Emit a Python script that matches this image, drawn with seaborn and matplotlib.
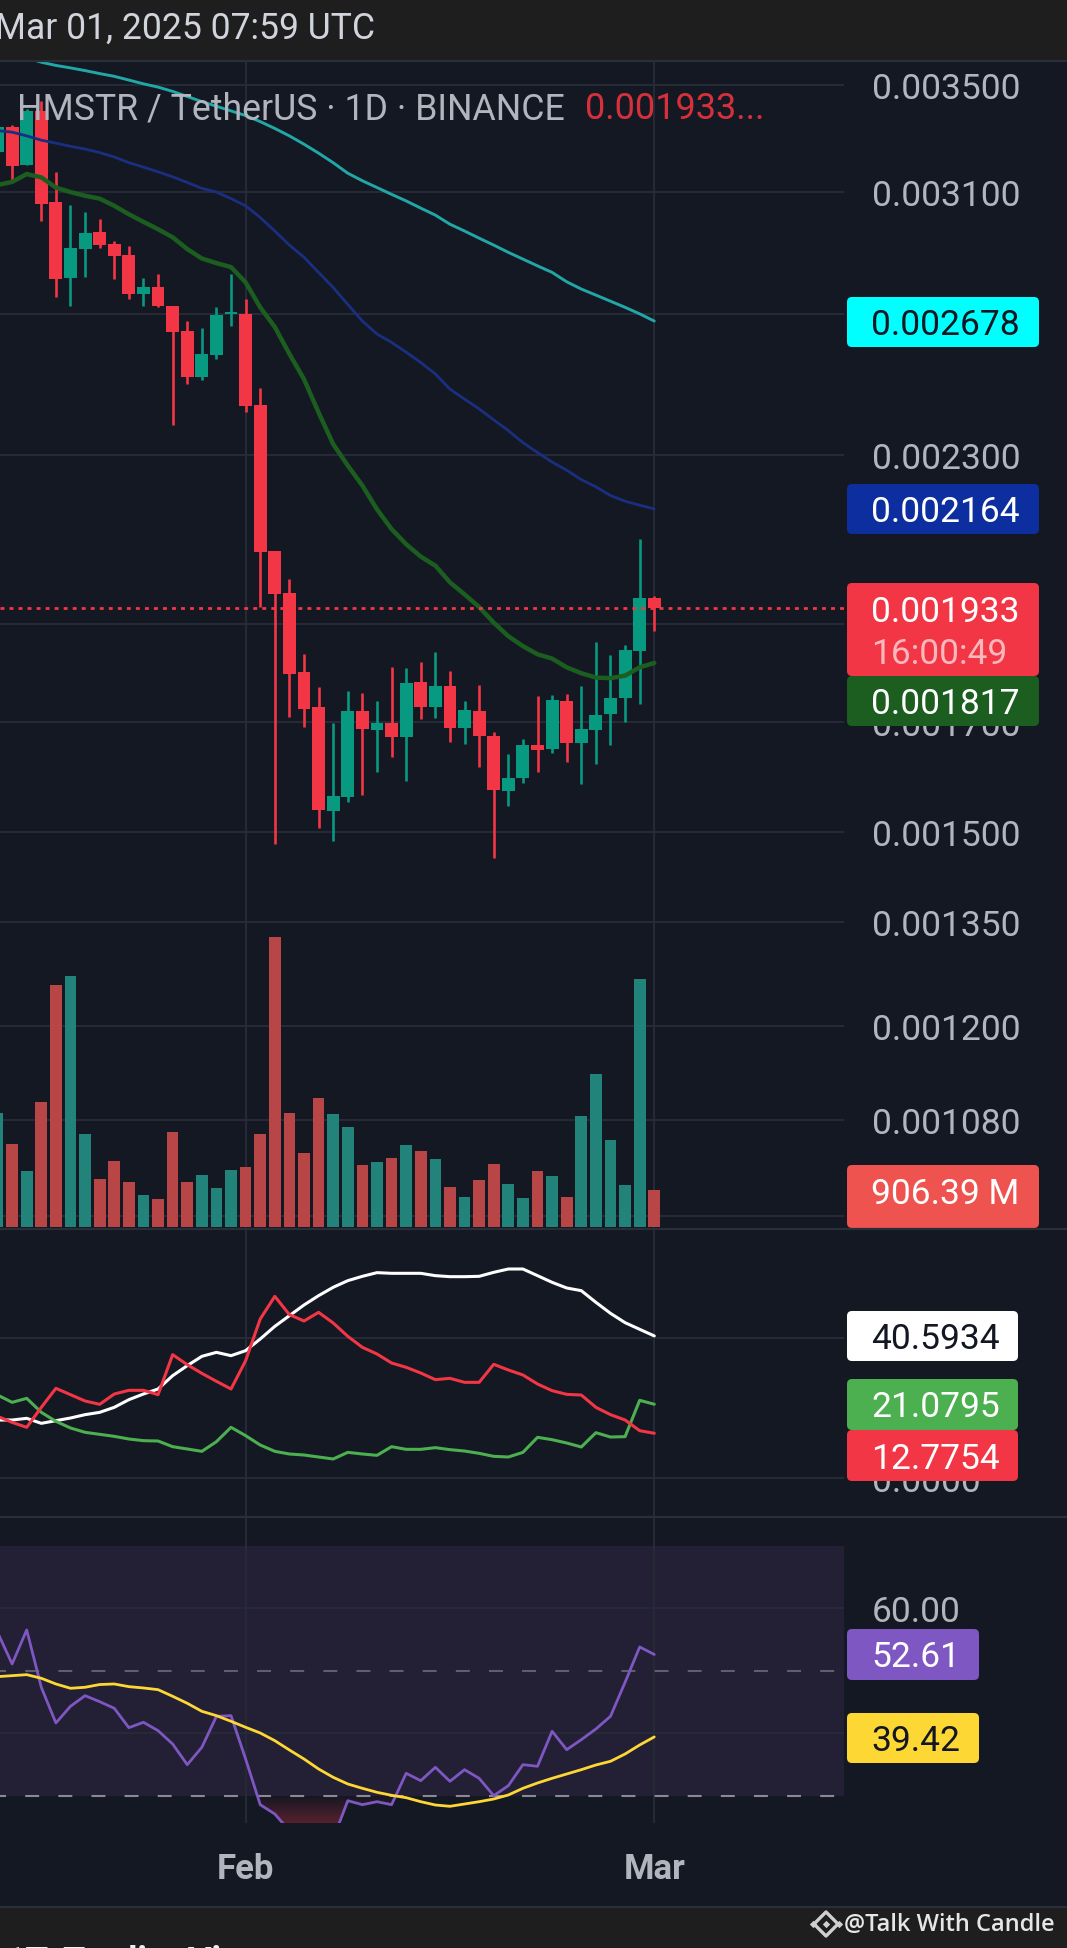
import numpy as np
import pandas as pd
import seaborn as sns
import matplotlib.pyplot as plt
from matplotlib.patches import FancyBboxPatch, Rectangle

W, H = 1067, 1949
BG = "#141823"
BAR = "#1e1e1e"
GRID = "#262a37"
UP = "#089981"
DOWN = "#f23645"
TXT = "#b2b5be"

# days counted from Feb 1, one candle per day
days = list(range(-17, 29))

# prices in millionths of a USDT
price_open = [3244, 3339, 3197, 3400, 3064, 2812, 2906, 2962, 2922, 2888, 2760, 2782, 2723, 2648, 2514, 2578,
              2698, 2699, 2434, 2063, 1966, 1798, 1728, 1536, 1560, 1720, 1684, 1697, 1670, 1778, 1728, 1770,
              1688, 1720, 1673, 1571, 1595, 1656, 1648, 1740, 1659, 1684, 1715, 1746, 1841, 1955]
price_high = [3360, 3345, 3406, 3438, 3170, 3054, 3029, 3008, 2932, 2915, 2813, 2824, 2725, 2678, 2656, 2722,
              2824, 2745, 2482, 2063, 1998, 1835, 1768, 1697, 1761, 1756, 1740, 1809, 1807, 1819, 1839, 1800,
              1740, 1772, 1680, 1638, 1667, 1750, 1752, 1754, 1770, 1860, 1833, 1854, 2091, 1960]
price_low = [3225, 3140, 3196, 3000, 2752, 2724, 2815, 2910, 2808, 2745, 2724, 2721, 2381, 2493, 2505, 2565,
             2664, 2416, 1935, 1480, 1709, 1689, 1506, 1485, 1552, 1565, 1605, 1633, 1589, 1705, 1707, 1661,
             1658, 1614, 1457, 1545, 1585, 1605, 1640, 1623, 1584, 1620, 1656, 1699, 1734, 1884]
price_close = [3338, 3194, 3400, 3058, 2810, 2909, 2961, 2919, 2884, 2762, 2782, 2724, 2646, 2514, 2580, 2696,
               2705, 2433, 2060, 1964, 1795, 1724, 1538, 1562, 1720, 1686, 1697, 1671, 1776, 1728, 1770, 1688,
               1722, 1673, 1573, 1595, 1656, 1646, 1742, 1659, 1686, 1713, 1746, 1843, 1955, 1933]

ma_teal = [3646, 3632, 3610, 3592, 3579, 3569, 3558, 3546, 3535, 3520, 3505, 3492, 3475, 3455, 3435, 3417,
           3399, 3381, 3358, 3332, 3304, 3273, 3240, 3205, 3167, 3140, 3116, 3092, 3069, 3044, 3020, 2989,
           2966, 2942, 2919, 2895, 2873, 2851, 2830, 2800, 2777, 2758, 2739, 2720, 2700, 2678]
ma_blue = [3324, 3318, 3304, 3288, 3277, 3265, 3255, 3242, 3226, 3205, 3189, 3172, 3154, 3134, 3113, 3100,
           3077, 3052, 3012, 2966, 2919, 2879, 2830, 2782, 2729, 2678, 2639, 2614, 2585, 2555, 2522, 2479,
           2451, 2424, 2394, 2365, 2333, 2307, 2282, 2261, 2237, 2219, 2197, 2183, 2173, 2164]
ma_green = [3125, 3136, 3164, 3152, 3116, 3100, 3087, 3077, 3052, 3023, 2997, 2972, 2945, 2906, 2875, 2860,
            2847, 2798, 2720, 2660, 2580, 2507, 2414, 2329, 2273, 2222, 2163, 2115, 2079, 2050, 2029, 1991,
            1964, 1936, 1902, 1873, 1852, 1835, 1826, 1808, 1796, 1787, 1786, 1791, 1808, 1817]

# volume in millions
volume = [2776, 2023, 1368, 3043, 5884, 6102, 2266, 1173, 1611, 1101, 785, 688, 2315, 1101, 1271, 955,
          1392, 1465, 2266, 7049, 2776, 1805, 3140, 2752, 2436, 1513, 1586, 1683, 1999, 1853, 1659, 979,
          736, 1149, 1538, 1052, 712, 1368, 1246, 736, 2703, 3723, 2120, 1028, 6029, 906.39]

adx_white = [16.57, 16.57, 17.05, 15.62, 16.38, 17.14, 18.1, 18.76, 20.19, 22.38, 24.0, 25.43, 29.24, 32.1, 34.76, 35.9,
             34.95, 36.38, 39.71, 43.33, 46.38, 49.43, 52.1, 54.48, 56.38, 57.62, 58.67, 58.48, 58.48, 58.48, 57.81, 57.52,
             57.52, 57.62, 58.76, 59.71, 59.71, 57.81, 55.9, 54.29, 53.52, 50.19, 47.05, 44.38, 42.48, 40.59]
di_red = [17.62, 15.9, 14.48, 20.19, 25.62, 23.81, 22.0, 21.05, 24.0, 25.05, 25.05, 23.81, 35.24, 32.38, 29.9, 27.62,
          25.43, 33.52, 45.43, 51.9, 46.67, 44.86, 47.33, 44.29, 40.48, 37.33, 35.43, 32.86, 31.62, 30.0, 28.1, 28.48,
          27.33, 27.33, 32.48, 30.86, 29.43, 26.86, 24.95, 23.9, 23.71, 20.19, 18.1, 16.57, 13.52, 12.78]
di_green = [23.71, 21.62, 22.76, 18.76, 16.19, 14.29, 13.05, 12.48, 11.9, 11.14, 10.67, 10.57, 8.95, 8.29, 7.62, 10.38,
            14.48, 12.1, 9.43, 7.62, 6.86, 6.57, 6.0, 5.43, 7.33, 6.86, 6.48, 8.95, 8.19, 8.19, 8.67, 8.1,
            7.71, 7.05, 6.19, 6.0, 7.33, 11.62, 10.95, 10.0, 8.86, 12.95, 11.71, 11.81, 22.19, 21.08]

rsi = [56.16, 51.09, 56.53, 47.36, 41.65, 44.32, 46.02, 45.06, 44.0, 40.9, 41.76, 40.42, 38.29, 34.98, 37.76, 42.72,
       42.82, 35.89, 28.58, 27.09, 24.42, 23.09, 22.82, 23.09, 29.22, 28.58, 29.06, 28.58, 33.6, 32.42, 34.56, 32.32,
       34.18, 32.8, 30.02, 31.62, 34.98, 34.72, 40.32, 37.38, 38.98, 40.69, 42.72, 48.16, 53.81, 52.61]
rsi_ma = [49.06, 49.22, 49.38, 48.8, 47.89, 47.2, 47.36, 47.8, 47.89, 47.46, 47.25, 46.98, 45.92, 44.8, 43.52, 42.82,
          41.92, 40.96, 40.05, 38.82, 37.33, 35.89, 34.29, 32.96, 31.89, 31.2, 30.56, 30.08, 29.7, 29.06, 28.53, 28.32,
          28.69, 29.06, 29.49, 30.13, 31.2, 32.05, 32.8, 33.49, 34.18, 34.93, 35.52, 36.69, 38.13, 39.42]

# the lower log ticks sit a little off their rounded labels
price_ticks = [3500, 3100, 2700, 2300, 1900, 1700, 1500, 1354, 1203, 1082, 970]
price_tick_labels = ["0.003500", "0.003100", "0.002700", "0.002300", "0.001900", "0.001700", "0.001500",
                     "0.001350", "0.001200", "0.001080", "0.000970"]
dmi_ticks = [40, 0]
dmi_tick_labels = ["40.0000", "0.0000"]
rsi_ticks = [60, 40]
rsi_tick_labels = ["60.00", "40.00"]
month_days = [0, 28]
month_labels = ["Feb", "Mar"]

sns.set_theme(style="dark")
plt.rcParams["font.family"] = ["Roboto", "DejaVu Sans"]
plt.rcParams["axes.unicode_minus"] = False

df = pd.DataFrame({"day": days, "open": price_open, "high": price_high, "low": price_low, "close": price_close,
                   "teal": ma_teal, "blue": ma_blue, "green": ma_green, "volume": volume, "adx": adx_white,
                   "di_red": di_red, "di_green": di_green, "rsi": rsi, "rsi_ma": rsi_ma})
df["side"] = np.where(df["close"] >= df["open"], "up", "down")

fig = plt.figure(figsize=(W / 100, H / 100), dpi=100, facecolor=BG)


def pane(x0, y0, x1, y1):
    ax = fig.add_axes([x0 / W, 1 - y1 / H, (x1 - x0) / W, (y1 - y0) / H])
    ax.set_facecolor(BG)
    for s in ax.spines.values():
        s.set_visible(False)
    ax.set_xlim(-16.83, 41.0)
    ax.grid(False)
    return ax


def y_axis(ax, ticks, labels):
    ax.yaxis.tick_right()
    ax.set_yticks(ticks, labels)
    ax.minorticks_off()
    ax.tick_params(axis="y", length=0, pad=20, labelsize=25.5, labelcolor=TXT)
    ax.tick_params(axis="x", length=0, labelbottom=False)
    ax.set_xlabel("")
    ax.set_ylabel("")
    for t in ax.get_yticklabels():
        t.set_va("center_baseline")
    for t in ticks:
        ax.axhline(t, color=GRID, lw=1.5, zorder=1)
    for d in month_days:
        ax.axvline(d, color=GRID, lw=1.5, zorder=1)


# price pane
ax_price = pane(0, 62, 844, 1230)
ax_price.set_yscale("log")
ax_price.set_ylim(956, 3597)
y_axis(ax_price, price_ticks, price_tick_labels)

colors = df["side"].map({"up": UP, "down": DOWN})
ax_price.vlines(df["day"], df["low"], df["high"], colors=colors, lw=1.9, zorder=3)
ax_price.bar(df["day"], (df["close"] - df["open"]).abs().clip(lower=4), bottom=df[["open", "close"]].min(axis=1),
             width=0.88, color=colors, lw=0, zorder=3)
sns.lineplot(data=df, x="day", y="teal", color="#22a7a7", lw=2.1, ax=ax_price, zorder=4)
sns.lineplot(data=df, x="day", y="blue", color="#1a2f80", lw=2.0, ax=ax_price, zorder=4)
sns.lineplot(data=df, x="day", y="green", color="#1b5e20", lw=3.2, ax=ax_price, zorder=4)
ax_price.axhline(price_close[-1], color=DOWN, lw=2, ls=(0, (1.4, 1.85)), zorder=5)
ax_price.set_xlabel("")
ax_price.set_ylabel("")

# volume shares the price pane
ax_vol = ax_price.twinx()
ax_price.yaxis.tick_right()  # twinx sends the price labels to the left
ax_vol.patch.set_visible(False)
sns.barplot(data=df, x="day", y="volume", hue="side", palette={"up": "#22837a", "down": "#b94647"},
            native_scale=True, dodge=False, width=0.8, saturation=1, legend=False, linewidth=0, ax=ax_vol, zorder=2)
ax_vol.set_xlim(-16.83, 41.0)
ax_vol.set_ylim(-48.6, 28310)
ax_vol.set_yticks([])
ax_vol.set_ylabel("")
ax_vol.set_xlabel("")
ax_vol.tick_params(axis="x", length=0, labelbottom=False)
for s in ax_vol.spines.values():
    s.set_visible(False)

# directional movement pane
ax_dmi = pane(0, 1230, 844, 1518)
ax_dmi.set_ylim(-11.14, 71.14)
y_axis(ax_dmi, dmi_ticks, dmi_tick_labels)
sns.lineplot(data=df, x="day", y="adx", color="#ffffff", lw=2.2, ax=ax_dmi, zorder=3)
sns.lineplot(data=df, x="day", y="di_green", color="#4caf50", lw=2.2, ax=ax_dmi, zorder=3)
sns.lineplot(data=df, x="day", y="di_red", color="#f23645", lw=2.2, ax=ax_dmi, zorder=3)
ax_dmi.set_xlabel("")
ax_dmi.set_ylabel("")

# rsi pane
ax_rsi = pane(0, 1518, 844, 1824)
ax_rsi.set_ylim(25.65, 74.6)
ax_rsi.axhspan(30, 70, color="#231f35", lw=0, zorder=0)
y_axis(ax_rsi, rsi_ticks, rsi_tick_labels)
ax_rsi.axhline(50, color="#5f5f6b", lw=1.5, ls=(3.8, (6.7, 9.2)), zorder=2)
ax_rsi.axhline(30, color="#8a8a92", lw=1.5, ls=(3.8, (6.7, 9.2)), zorder=2)
below = ax_rsi.fill_between(df["day"], df["rsi"], 30, where=df["rsi"] < 30, interpolate=True, color="none")
shade = np.zeros((32, 1, 4))
shade[..., 0] = 0.95
shade[..., 1] = 0.21
shade[..., 2] = 0.27
shade[:, 0, 3] = np.linspace(0.0, 0.3, 32)
im = ax_rsi.imshow(shade, extent=(-16.83, 41.0, 25.65, 30), aspect="auto", zorder=1)
im.set_clip_path(below.get_paths()[0], transform=ax_rsi.transData)
sns.lineplot(data=df, x="day", y="rsi", color="#7e57c2", lw=2.0, ax=ax_rsi, zorder=3)
sns.lineplot(data=df, x="day", y="rsi_ma", color="#fdd835", lw=2.0, ax=ax_rsi, zorder=4)
ax_rsi.set_xlim(-16.83, 41.0)
ax_rsi.set_ylim(25.65, 74.6)
ax_rsi.set_xlabel("")
ax_rsi.set_ylabel("")
ax_rsi.set_xticks(month_days, month_labels)
ax_rsi.tick_params(axis="x", length=0, pad=21, labelbottom=True, labelsize=25, labelcolor=TXT)
for t in ax_rsi.get_xticklabels():
    t.set_fontweight("bold")

# page furniture and price badges, in pixels
over = fig.add_axes([0, 0, 1, 1], zorder=10)
over.set_xlim(0, W)
over.set_ylim(H, 0)
over.axis("off")

over.add_patch(Rectangle((0, 0), W, 62, color=BAR, lw=0))
over.add_patch(Rectangle((0, 1908), W, 41, color=BAR, lw=0))
for y in [62, 1230, 1518, 1908]:
    over.axhline(y, color="#2a2e39", lw=1.6)

over.text(-5, 29, "Mar 01, 2025 07:59 UTC", color="#d1d4dc", fontsize=25.6, va="center")
over.text(17, 109, "HMSTR / TetherUS · 1D · BINANCE", color=TXT, fontsize=25.7, va="center")
over.text(585, 109, "0.001933...", color="#d6303c", fontsize=26, va="center")


def badge(y0, y1, x1, face):
    over.add_patch(FancyBboxPatch((850, y0 + 3), x1 - 853, y1 - y0 - 6, boxstyle="round,pad=3,rounding_size=5",
                                  fc=face, ec="none", mutation_aspect=1))


def badge_text(y, s, color="#ffffff", alpha=1):
    over.text(871, y - 1, s, color=color, alpha=alpha, fontsize=25.5, va="center_baseline")


badge(298, 348, 1039, "#00ffff")
badge_text(323, "0.002678", "#131722")
badge(485, 535, 1039, "#0d2e9e")
badge_text(510, "0.002164")
badge(584, 677, 1039, DOWN)
badge_text(610, "0.001933")
badge_text(652, "16:00:49", alpha=0.65)
badge(677, 727, 1039, "#1b5e20")
badge_text(702, "0.001817")
badge(1166, 1229, 1039, "#ef5350")
badge_text(1192, "906.39 M")
badge(1312, 1362, 1018, "#ffffff")
badge_text(1337, "40.5934", "#131722")
badge(1380, 1431, 1018, "#4caf50")
badge_text(1405, "21.0795")
badge(1431, 1482, 1018, DOWN)
badge_text(1457, "12.7754")
badge(1630, 1681, 979, "#7e57c2")
badge_text(1655, "52.61")
badge(1714, 1764, 979, "#fdd835")
badge_text(1739, "39.42", "#131722")

over.text(844, 1925, "@Talk With Candle", color="#e6e6e6", fontsize=17, family="Open Sans", weight="semibold",
          va="center")
over.scatter([826], [1925], marker="D", s=150, facecolor="none", edgecolor="#d0d0d0", lw=2.4)
over.scatter([826, 813, 839], [1925, 1925, 1925], marker="D", s=14, color="#d0d0d0", lw=0)
over.text(62, 1945, "TradingView", color="#f0f0f0", fontsize=26, weight="bold", va="top")
over.text(2, 1945, "17", color="#f0f0f0", fontsize=30, weight="black", va="top")

fig.savefig("out.png", dpi=100, facecolor=BG)
